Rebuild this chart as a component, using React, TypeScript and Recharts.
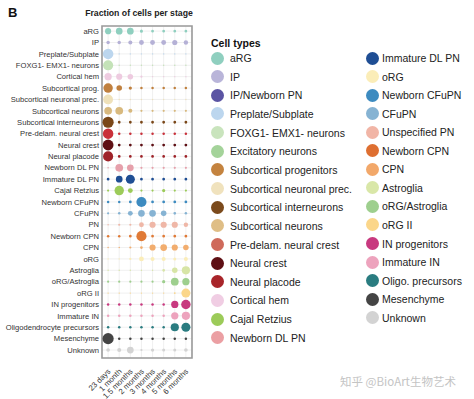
import React from "react";
import {
  ScatterChart,
  Scatter,
  XAxis,
  YAxis,
  ZAxis,
  CartesianGrid,
  ReferenceArea,
} from "recharts";

const stages = ["23 days", "1 month", "1.5 months", "2 months", "3 months", "4 months", "5 months", "6 months"];

const rowLabels = [
  "aRG", "IP", "Preplate/Subplate", "FOXG1- EMX1- neurons", "Cortical hem",
  "Subcortical prog.", "Subcortical neuronal prec.", "Subcortical neurons",
  "Subcortical interneurons", "Pre-delam. neural crest", "Neural crest",
  "Neural placode", "Newborn DL PN", "Immature DL PN", "Cajal Retzius",
  "Newborn CFuPN", "CFuPN", "PN", "Newborn CPN", "CPN", "oRG", "Astroglia",
  "oRG/Astroglia", "oRG II", "IN progenitors", "Immature IN",
  "Oligodendrocyte precursors", "Mesenchyme", "Unknown",
];

const rowColors = [
  "#8fcfbf", "#b5b1d6", "#bcd6ee", "#c4e2b8", "#eecbe0",
  "#c0803e", "#efe1b9", "#d8b97e",
  "#7a4718", "#c9303a", "#5e0f14",
  "#9e2228", "#e6a0ab", "#1f4e94", "#9ccb59",
  "#3d8bc0", "#86b3d3", "#efb7a7", "#e07a36", "#f2ad6e", "#fbedb8", "#d7e5a6",
  "#9ecf8e", "#fbd68a", "#c8397f", "#eda3bd",
  "#2a7c80", "#444444", "#d3d3d3",
];

// fraction of cells per stage, one array per row (23d ... 6 months)
const aRG = [0.25, 0.3, 0.3, 0.05, 0.04, 0.04, 0.04, 0.04];
const IP = [0.07, 0.07, 0.1, 0.15, 0.15, 0.15, 0.17, 0.12];
const preplate = [0.75, 0, 0, 0, 0, 0, 0, 0];
const foxg1 = [0.7, 0, 0, 0, 0, 0, 0, 0];
const corticalHem = [0.35, 0.25, 0.2, 0.02, 0, 0, 0, 0];
const subProg = [0.6, 0.2, 0.06, 0.03, 0.03, 0.03, 0.03, 0.03];
const subPrec = [0.65, 0, 0, 0, 0, 0, 0, 0];
const subNeurons = [0.4, 0.4, 0.1, 0.02, 0.02, 0.02, 0.02, 0.02];
const subIN = [0.85, 0.04, 0.04, 0.04, 0.04, 0.04, 0.04, 0.04];
const preDelam = [0.75, 0.03, 0.03, 0.03, 0.03, 0.03, 0.03, 0.03];
const neuralCrest = [0.8, 0.04, 0.04, 0.04, 0.04, 0.04, 0.04, 0.04];
const neuralPlacode = [0.7, 0.04, 0.04, 0.04, 0.04, 0.04, 0.04, 0.04];
const newbornDL = [0, 0.4, 0.3, 0.02, 0.02, 0.02, 0.02, 0.02];
const immatureDL = [0.04, 0.3, 0.55, 0.04, 0.04, 0.04, 0.04, 0.04];
const cajal = [0.02, 0.6, 0.15, 0.02, 0.02, 0.06, 0.02, 0.02];
const newbornCFu = [0.03, 0.03, 0.04, 0.7, 0.04, 0.04, 0.04, 0.04];
const cfupn = [0.02, 0.03, 0.15, 0.3, 0.3, 0.2, 0.04, 0.03];
const pn = [0, 0.02, 0.02, 0.15, 0.25, 0.25, 0.25, 0.12];
const newbornCPN = [0.03, 0.03, 0.04, 0.7, 0.04, 0.04, 0.04, 0.04];
const cpn = [0, 0, 0.02, 0.04, 0.25, 0.3, 0.25, 0.2];
const oRG = [0, 0, 0.02, 0.15, 0.1, 0.1, 0.05, 0.1];
const astroglia = [0, 0, 0, 0, 0, 0.04, 0.2, 0.45];
const oRGAstro = [0.02, 0.02, 0.02, 0.02, 0.02, 0.06, 0.4, 0.35];
const oRG2 = [0, 0, 0, 0, 0, 0, 0.01, 0.55];
const inProg = [0.03, 0.03, 0.03, 0.03, 0.03, 0.03, 0.35, 0.6];
const immatureIN = [0.03, 0.03, 0.03, 0.03, 0.03, 0.03, 0.35, 0.45];
const opc = [0.03, 0.03, 0.03, 0.03, 0.03, 0.03, 0.45, 0.55];
const mesenchyme = [0.85, 0.03, 0.03, 0.03, 0.03, 0.03, 0.03, 0.03];
const unknown = [0.08, 0.1, 0.3, 0.02, 0.06, 0.05, 0.05, 0.08];

const rowValues = [
  aRG, IP, preplate, foxg1, corticalHem, subProg, subPrec, subNeurons, subIN,
  preDelam, neuralCrest, neuralPlacode, newbornDL, immatureDL, cajal, newbornCFu,
  cfupn, pn, newbornCPN, cpn, oRG, astroglia, oRGAstro, oRG2, inProg, immatureIN,
  opc, mesenchyme, unknown,
];

const legendLeft = [
  "aRG", "IP", "IP/Newborn PN", "Preplate/Subplate", "FOXG1- EMX1- neurons",
  "Excitatory neurons", "Subcortical progenitors", "Subcortical neuronal prec.",
  "Subcortical interneurons", "Subcortical neurons", "Pre-delam. neural crest",
  "Neural crest", "Neural placode", "Cortical hem", "Cajal Retzius", "Newborn DL PN",
];
const legendLeftColors = [
  "#8fcfbf", "#b9b5d9", "#5b54a3", "#bcd6ee", "#c9e4bd",
  "#a4d39a", "#c4833f", "#f0e2bd",
  "#7b4a1c", "#dfbe86", "#cf6a5b",
  "#5e0f14", "#a8252a", "#f0cde3", "#9ccb59", "#eb9fa3",
];
const legendRight = [
  "Immature DL PN", "oRG", "Newborn CFuPN", "CFuPN", "Unspecified PN",
  "Newborn CPN", "CPN", "Astroglia", "oRG/Astroglia", "oRG II",
  "IN progenitors", "Immature IN", "Oligo. precursors", "Mesenchyme", "Unknown",
];
const legendRightColors = [
  "#1f4e94", "#fbedb8", "#3d8bc0", "#86b3d3", "#f1b5a6",
  "#de6f31", "#f2a86a", "#d9e7a8", "#9ecf8e", "#fbd68a",
  "#c8397f", "#eda3bd", "#2a7c80", "#444444", "#d3d3d3",
];

const rowTicks = rowLabels.map((_, i) => i);
const stageTicks = stages.map((_, i) => i);

const FONT = "'Liberation Sans', Arial, sans-serif";

const XTick = (props: any) => {
  const { x, y, payload } = props;
  return (
    <text
      x={x + 3}
      y={y + 6}
      transform={`rotate(-45 ${x + 3} ${y + 6})`}
      textAnchor="end"
      fontSize={7.8}
      fill="#333"
      fontFamily={FONT}
    >
      {stages[payload.value]}
    </text>
  );
};

const YTick = (props: any) => {
  const { y, payload } = props;
  return (
    <text
      x={99}
      y={y}
      dy={2.7}
      textAnchor="end"
      fontSize={7.6}
      fill="#333"
      fontFamily={FONT}
    >
      {rowLabels[payload.value]}
    </text>
  );
};

export default function App() {
  return (
    <div style={{ position: "absolute", left: 0, top: 0, width: 474, height: 399, background: "#fff", fontFamily: FONT }}>
      <ScatterChart width={474} height={399} margin={{ top: 26, right: 282, left: 0, bottom: 0 }}>
        <CartesianGrid stroke="#ececec" strokeWidth={0.8} />
        <XAxis
          type="number"
          dataKey="x"
          domain={[-0.55, 7.55]}
          ticks={stageTicks}
          interval={0}
          allowDataOverflow
          height={41}
          tickLine={false}
          axisLine={false}
          tick={<XTick />}
        />
        <YAxis
          type="number"
          dataKey="y"
          domain={[-0.45, 28.7]}
          reversed
          ticks={rowTicks}
          interval={0}
          allowDataOverflow
          width={102}
          tickLine={false}
          axisLine={false}
          tick={<YTick />}
        />
        <ZAxis type="number" dataKey="z" domain={[0, 1]} range={[1.5, 115]} />
        {rowValues.map((vals, r) => (
          <Scatter
            key={rowLabels[r]}
            name={rowLabels[r]}
            data={vals.map((v, c) => ({ x: c, y: r, z: v }))}
            fill={rowColors[r]}
            isAnimationActive={false}
          />
        ))}
        <ReferenceArea
          x1={-0.55}
          x2={7.55}
          y1={-0.45}
          y2={28.7}
          fill="none"
          fillOpacity={0}
          stroke="#9a9a9a"
          strokeWidth={1.6}
          ifOverflow="visible"
        />
        <text x={8} y={17} fontSize={13} fontWeight="bold" fill="#111" fontFamily={FONT}>B</text>
        <text x={139} y={16} fontSize={8.7} fontWeight="bold" fill="#222" textAnchor="middle" fontFamily={FONT}>
          Fraction of cells per stage
        </text>
      </ScatterChart>
      <div style={{ position: "absolute", left: 211, top: 36, fontSize: 10.5, fontWeight: "bold", color: "#111", lineHeight: "14px" }}>
        Cell types
      </div>
      {legendLeft.map((name, i) => (
        <div key={name} style={{ position: "absolute", left: 211, top: 58 + i * 18.65 - 7, height: 14, display: "flex", alignItems: "center", whiteSpace: "nowrap" }}>
          <span style={{ width: 13, height: 13, borderRadius: "50%", background: legendLeftColors[i], display: "inline-block", marginRight: 6 }} />
          <span style={{ fontSize: 10.5, color: "#222" }}>{name}</span>
        </div>
      ))}
      {legendRight.map((name, i) => (
        <div key={name} style={{ position: "absolute", left: 366, top: 58 + i * 18.55 - 7, height: 14, display: "flex", alignItems: "center", whiteSpace: "nowrap" }}>
          <span style={{ width: 13, height: 13, borderRadius: "50%", background: legendRightColors[i], display: "inline-block", marginRight: 3 }} />
          <span style={{ fontSize: 10.5, color: "#222" }}>{name}</span>
        </div>
      ))}
      <div style={{ position: "absolute", left: 340, top: 373, fontSize: 11.5, color: "#c4c4c4", fontFamily: "'Noto Sans CJK SC', sans-serif", whiteSpace: "nowrap" }}>
        知乎 @BioArt生物艺术
      </div>
    </div>
  );
}
